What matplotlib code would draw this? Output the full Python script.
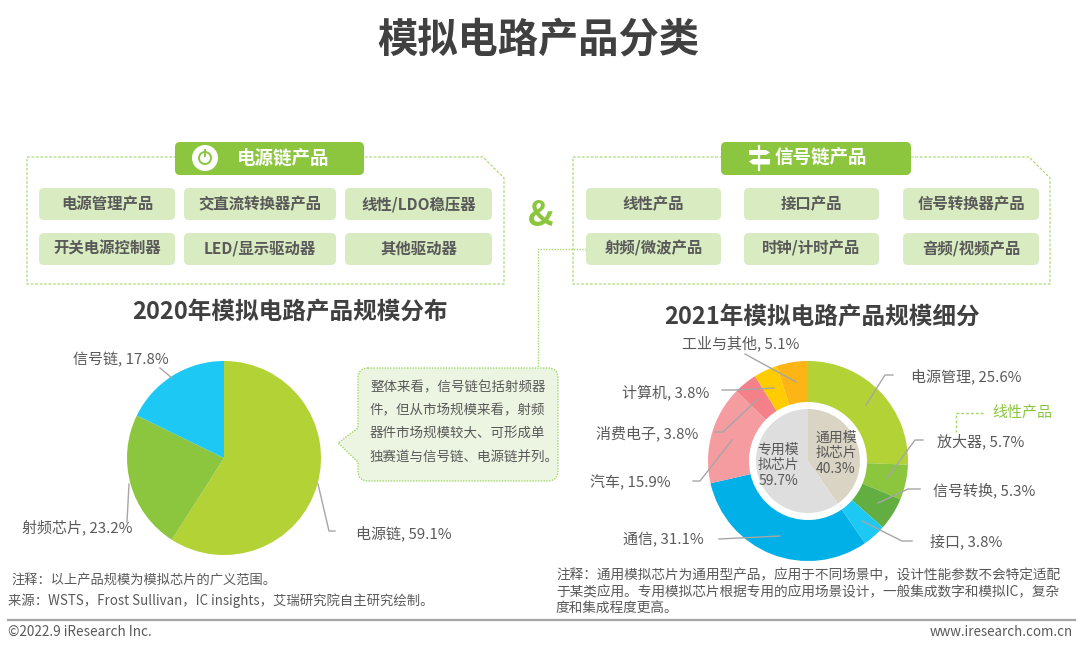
import matplotlib
matplotlib.use("Agg")
import matplotlib.pyplot as plt
from matplotlib.patches import FancyBboxPatch, Circle, Polygon, PathPatch
from matplotlib.path import Path

plt.rcParams['font.family'] = ['Noto Sans CJK SC', 'DejaVu Sans']

W, H = 1080, 655
TXT = '#595959'
DARK = '#404040'
LEAD = '#A6A6A6'
GREEN = '#8CC63F'
LIGHT = '#D9EBC0'
DASH = '#A5D66B'

# ---- data ----
main_title = '模拟电路产品分类'
power_title = '电源链产品'
signal_title = '信号链产品'
power_items = ['电源管理产品', '交直流转换器产品', '线性/LDO稳压器', '开关电源控制器', 'LED/显示驱动器', '其他驱动器']
signal_items = ['线性产品', '接口产品', '信号转换器产品', '射频/微波产品', '时钟/计时产品', '音频/视频产品']

title_2020 = '2020年模拟电路产品规模分布'
names_2020 = ['电源链', '射频芯片', '信号链']
values_2020 = [59.1, 23.2, 17.8]
colors_2020 = ['#B2D235', '#8CC63F', '#1EC8F5']

title_2021 = '2021年模拟电路产品规模细分'
names_2021 = ['电源管理', '放大器', '信号转换', '接口', '通信', '汽车', '消费电子', '计算机', '工业与其他']
values_2021 = [25.6, 5.7, 5.3, 3.8, 31.1, 15.9, 3.8, 3.8, 5.1]
colors_2021 = ['#B2D235', '#8CC63F', '#62AE41', '#1EC8F5', '#00B0E6', '#F59CA0', '#F48189', '#FFCC00', '#FDB515']

inner_names = ['通用模\n拟芯片', '专用模\n拟芯片']
inner_values = [40.3, 59.7]
inner_colors = ['#D9D4C3', '#DEDEDE']

callout_lines = ['整体来看，信号链包括射频器', '件，但从市场规模来看，射频', '器件市场规模较大、可形成单', '独赛道与信号链、电源链并列。']
note_left = ['注释：以上产品规模为模拟芯片的广义范围。', '来源：WSTS，Frost Sullivan，IC insights，艾瑞研究院自主研究绘制。']
note_right = ['注释：通用模拟芯片为通用型产品，应用于不同场景中，设计性能参数不会特定适配',
              '于某类应用。专用模拟芯片根据专用的应用场景设计，一般集成数字和模拟IC，复杂',
              '度和集成程度更高。']
footer_left = '©2022.9 iResearch Inc.'
footer_right = 'www.iresearch.com.cn'

# ---- canvas in pixel coordinates ----
fig = plt.figure(figsize=(W / 100, H / 100), dpi=100, facecolor='white')


def pixel_axes(z):
    a = fig.add_axes([0, 0, 1, 1], zorder=z)
    a.set_xlim(0, W)
    a.set_ylim(H, 0)
    a.axis('off')
    a.patch.set_alpha(0)
    return a


bg = pixel_axes(0)
top = pixel_axes(3)


def rbox(a, x0, y0, x1, y1, fc, r=5, ec='none', z=2):
    a.add_patch(FancyBboxPatch((x0 + r, y0 + r), x1 - x0 - 2 * r, y1 - y0 - 2 * r,
                               boxstyle=f'round,pad={r},rounding_size={r}',
                               fc=fc, ec=ec, lw=0, zorder=z))


def frame(x0, y0, x1, y1, ch):
    xs = [x0, x1 - ch, x1, x1, x0, x0]
    ys = [y0, y0, y0 + ch, y1, y1, y0]
    bg.plot(xs, ys, color=DASH, lw=0.8, ls=(0, (2.5, 1.5)), zorder=1)


def panel(x0, x1, hx0, hx1, title, tx, cols, items):
    frame(x0, 157, x1, 284, 21)
    rbox(bg, hx0, 142, hx1, 175, GREEN, r=5)
    bg.text(tx, 158, title, color='white', fontsize=13.3, fontweight='bold', ha='left', va='center', zorder=4)
    rows = [(188, 220), (233, 265)]
    for i, item in enumerate(items):
        c0, c1 = cols[i % 3]
        r0, r1 = rows[i // 3]
        rbox(bg, c0, r0, c1, r1, LIGHT, r=5)
        bg.text((c0 + c1) / 2, (r0 + r1) / 2, item, color=TXT, fontsize=11.1, fontweight='bold',
                ha='center', va='center', zorder=4)


panel(27, 504, 175, 364, power_title, 237, [(39, 175), (184, 336), (345, 492)], power_items)
panel(573, 1050, 721, 911, signal_title, 775, [(586, 721), (744, 879), (903, 1039)], signal_items)

# power icon
bg.add_patch(Circle((205, 158), 13, fc='white', ec='none', zorder=4))
bg.add_patch(Circle((205, 158), 6, fc='none', ec=GREEN, lw=1.4, zorder=5))
bg.plot([205, 205], [150, 156], color=GREEN, lw=1.4, zorder=6)
# signpost icon
bg.plot([759, 759], [146, 170], color='white', lw=1.6, zorder=4)
bg.add_patch(Polygon([(749, 150), (766, 150), (770, 152.5), (766, 155), (749, 155)], fc='white', ec='none', zorder=5))
bg.add_patch(Polygon([(770, 159), (753, 159), (749, 161.5), (753, 164.5), (770, 164.5)], fc='white', ec='none', zorder=5))

bg.text(W / 2 - 2, 40, main_title, color=DARK, fontsize=29, fontweight='bold', ha='center', va='center')
bg.text(541, 216, '&', color=GREEN, fontsize=25, fontweight='bold', ha='center', va='center')
bg.text(290, 312, title_2020, color=DARK, fontsize=17, fontweight='bold', ha='center', va='center')
bg.text(822, 317, title_2021, color=DARK, fontsize=17, fontweight='bold', ha='center', va='center')


# ---- pies ----
def pie_axes(cx, cy, R, z=1):
    a = fig.add_axes([(cx - R) / W, 1 - (cy + R) / H, 2 * R / W, 2 * R / H], zorder=z)
    a.patch.set_alpha(0)
    return a


def fix(a, R):
    a.set_xlim(-R, R)
    a.set_ylim(-R, R)
    a.axis('off')


RL = 97
axl = pie_axes(224, 458, RL)
axl.pie(values_2020, colors=colors_2020, startangle=90, counterclock=False, radius=RL,
        wedgeprops={'linewidth': 0})
fix(axl, RL)

RO, RH, RI = 100, 59, 52
axr = pie_axes(808, 461, RO)
axr.pie(values_2021, colors=colors_2021, startangle=90, counterclock=False, radius=RO,
        wedgeprops={'width': RO - RH, 'linewidth': 0})
axr.pie(inner_values, colors=inner_colors, startangle=90, counterclock=False, radius=RI,
        wedgeprops={'linewidth': 0})
fix(axr, RO)


# ---- labels & leader lines ----
def leader(points):
    top.plot([p[0] for p in points], [p[1] for p in points], color=LEAD, lw=1, zorder=1)


def label(x, y, name, val):
    top.text(x, y, f'{name}, {val}%', color=TXT, fontsize=10.8, ha='left', va='center', zorder=2)


left_pos = [(356, 533), (22, 527), (73, 360)]
left_lead = [[(318, 484), (329, 531), (335, 531)], [(129, 484), (127, 522)], [(160, 368), (172, 378)]]
for (x, y), n, v, pts in zip(left_pos, names_2020, values_2020, left_lead):
    label(x, y, n, v)
    leader(pts)

right_pos = [(911, 376), (937, 441), (933, 490), (930, 541), (623, 540), (590, 482), (596, 433), (622, 392), (682, 343)]
right_lead = [
    [(893, 375), (885, 375), (866, 405)],
    [(923, 440), (915, 440), (887, 478)],
    [(920, 489), (908, 489), (878, 503)],
    [(912, 541), (902, 541), (862, 521)],
    [(719, 539), (780, 536)],
    [(693, 481), (700, 481), (732, 440)],
    [(715, 432), (723, 432), (758, 399)],
    [(722, 390), (737, 390), (774, 388)],
    [(745, 354), (796, 382)],
]
for (x, y), n, v, pts in zip(right_pos, names_2021, values_2021, right_lead):
    label(x, y, n, v)
    leader(pts)

top.text(992, 413, signal_items[0], color=GREEN, fontsize=10.8, ha='left', va='center')
top.plot([983, 956, 956], [413, 413, 432], color=DASH, lw=1, ls=(0, (2, 1.5)))

for x, y, name, val in [(836, 453, inner_names[0], inner_values[0]), (778, 465, inner_names[1], inner_values[1])]:
    top.text(x, y, f'{name}\n{val}%', color=TXT, fontsize=10, ha='center', va='center', linespacing=1.15)

# ---- callout ----
x0, y0, x1, y1, r = 358, 368, 558, 481, 10
verts = [(x0 + r, y0), (x1 - r, y0), (x1, y0), (x1, y0 + r), (x1, y1 - r), (x1, y1), (x1 - r, y1),
         (x0 + r, y1), (x0, y1), (x0, y1 - r), (x0, 462), (338, 443), (x0, 428), (x0, y0 + r), (x0, y0), (x0 + r, y0)]
codes = [Path.MOVETO, Path.LINETO, Path.CURVE3, Path.CURVE3, Path.LINETO, Path.CURVE3, Path.CURVE3,
         Path.LINETO, Path.CURVE3, Path.CURVE3, Path.LINETO, Path.LINETO, Path.LINETO, Path.LINETO,
         Path.CURVE3, Path.CURVE3]
bg.add_patch(PathPatch(Path(verts, codes), fc='#EBF5E1', ec=DASH, lw=1, ls=(0, (1, 1)), zorder=3))
bg.plot([586, 538, 538], [249, 249, 368], color=DASH, lw=1, ls=(0, (1, 1)), zorder=1)
for i, line in enumerate(callout_lines):
    bg.text(370, 387 + i * 23.5, line, color=TXT, fontsize=9.7, ha='left', va='center', zorder=4)

# ---- notes & footer ----
bg.text(11, 580, note_left[0], color=TXT, fontsize=9.5, ha='left', va='center')
bg.text(8, 601, note_left[1], color=TXT, fontsize=9.6, ha='left', va='center')
for i, line in enumerate(note_right):
    bg.text(556, 575 + i * 17, line, color=TXT, fontsize=9.85, ha='left', va='center')
bg.plot([8, 1075], [620, 620], color=LEAD, lw=1.6)
bg.text(8, 632, footer_left, color=TXT, fontsize=9.8, ha='left', va='center')
bg.text(1073, 632, footer_right, color=TXT, fontsize=9.6, ha='right', va='center')

fig.savefig('out.png', dpi=100)
